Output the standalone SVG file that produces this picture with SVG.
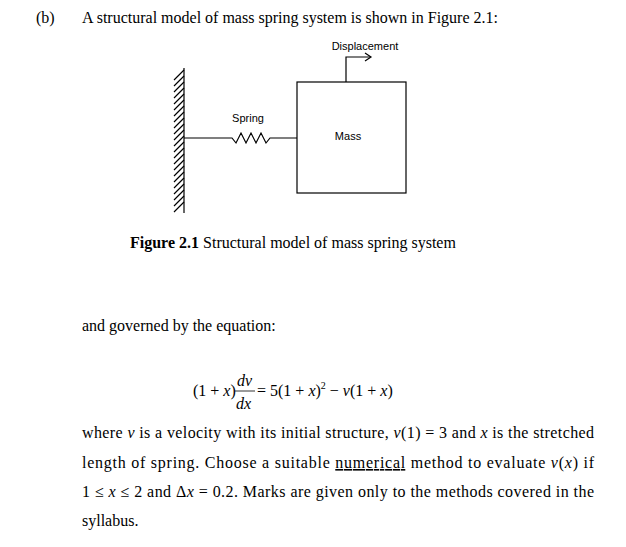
<svg xmlns="http://www.w3.org/2000/svg" width="626" height="547" viewBox="0 0 626 547">
<style>
.t{font-family:"Liberation Serif",serif;font-size:16px;fill:#000}
.s{font-family:"Liberation Sans",sans-serif;font-size:11px;fill:#000}
.ln{stroke:#000;stroke-width:1.2;fill:none}
.i{font-style:italic}
</style>
<rect width="626" height="547" fill="#fff"/>
<text class="t" x="36" y="23">(b)</text>
<text class="t" x="82" y="23">A structural model of mass spring system is shown in Figure 2.1:</text>
<g id="wall">
<line class="ln" x1="184" y1="68" x2="184" y2="213"/>
<path class="ln" stroke-width="1" d="M184,70 l-10,10 M184,76 l-10,10 M184,82 l-10,10 M184,88 l-10,10 M184,94 l-10,10 M184,100 l-10,10 M184,106 l-10,10 M184,112 l-10,10 M184,118 l-10,10 M184,124 l-10,10 M184,130 l-10,10 M184,136 l-10,10 M184,142 l-10,10 M184,148 l-10,10 M184,154 l-10,10 M184,160 l-10,10 M184,166 l-10,10 M184,172 l-10,10 M184,178 l-10,10 M184,184 l-10,10 M184,190 l-10,10 M184,196 l-10,10 M184,202 l-10,10"/>
</g>
<g id="spring">
<path class="ln" d="M184,138 H232 L236,143 L241,133 L246,143 L251,133 L256,143 L261,133 L266,143 L270,138 H297"/>
<text class="s" x="248" y="122" text-anchor="middle">Spring</text>
</g>
<g id="mass">
<rect class="ln" x="297" y="82" width="109" height="111"/>
<text class="s" x="348" y="140" text-anchor="middle">Mass</text>
</g>
<g id="connectors">
<path class="ln" d="M346,82 V57 H370"/>
<path class="ln" d="M365,53 L371,57 L365,61"/>
<text class="s" x="365" y="50" text-anchor="middle">Displacement</text>
</g>
<text class="t" x="130" y="248"><tspan font-weight="bold">Figure 2.1</tspan> Structural model of mass spring system</text>
<text class="t" x="82" y="331">and governed by the equation:</text>
<g id="equation">
<text class="t" x="193" y="396">(1 + <tspan class="i">x</tspan>)</text>
<text class="t i" x="237" y="386">dv</text>
<line x1="235" y1="391" x2="255" y2="391" stroke="#000" stroke-width="0.8"/>
<text class="t i" x="236" y="409">dx</text>
<text class="t" x="257" y="396">= 5(1 + <tspan class="i">x</tspan>)<tspan dy="-7" font-size="10">2</tspan><tspan dy="7"> − </tspan><tspan class="i">v</tspan>(1 + <tspan class="i">x</tspan>)</text>
</g>
<text class="t" x="82" y="438" textLength="512" lengthAdjust="spacing">where <tspan class="i">v</tspan> is a velocity with its initial structure, <tspan class="i">v</tspan>(1) = 3 and <tspan class="i">x</tspan> is the stretched</text>
<text class="t" x="82" y="468" textLength="512" lengthAdjust="spacing">length of spring. Choose a suitable <tspan text-decoration="underline">numerical</tspan> method to evaluate <tspan class="i">v</tspan>(<tspan class="i">x</tspan>) if</text>
<text class="t" x="82" y="497" textLength="512" lengthAdjust="spacing">1 ≤ <tspan class="i">x</tspan> ≤ 2 and Δ<tspan class="i">x</tspan> = 0.2. Marks are given only to the methods covered in the</text>
<text class="t" x="82" y="526">syllabus.</text>
</svg>
